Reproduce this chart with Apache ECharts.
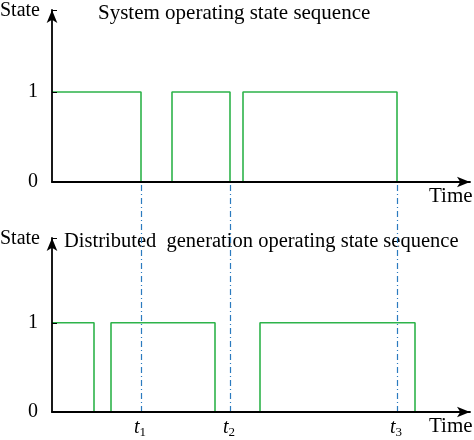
<!DOCTYPE html>
<html><head><meta charset="utf-8">
<script src="https://cdn.jsdelivr.net/npm/echarts@6/dist/echarts.min.js"></script>
<style>body{margin:0}#c{width:474px;height:440px}</style>
</head><body><div id="c"></div>
<script>
// step sequences, x in time units (0..418), y state 0/1
var sysSeq = [[0,1],[89,1],[89,0],[120,0],[120,1],[178,1],[178,0],[191,0],[191,1],[345,1],[345,0],[418,0]];
var dgSeq = [[0,1],[42,1],[42,0],[59,0],[59,1],[163,1],[163,0],[208,0],[208,1],[363,1],[363,0],[418,0]];
var tMarks = [89, 178, 345];
var tNames = ['1', '2', '3'];

var font = 'Liberation Serif';
var green = '#2db34a';
var chart = echarts.init(document.getElementById('c'));

function yAx(idx, mx) {
	return {
		gridIndex: idx, type: 'value', min: 0, max: mx, interval: 1, z: 5,
		axisLine: {show: true, lineStyle: {color: '#000', width: 1.8}, symbol: ['none', 'arrow'], symbolSize: [8, 13]},
		axisTick: {show: true, inside: true, length: 5, lineStyle: {color: '#000'}},
		splitLine: {show: false},
		axisLabel: {color: '#000', fontFamily: font, fontSize: 20, margin: 14,
			formatter: function(v) { return (v === 0 || v === 1) ? v : ''; }}
	};
}
function xAx(idx) {
	return {
		gridIndex: idx, type: 'value', min: 0, max: 418, z: 5,
		axisLine: {show: true, lineStyle: {color: '#000', width: 1.8}, symbol: ['none', 'arrow'], symbolSize: [8, 13]},
		axisTick: {show: false}, axisLabel: {show: false}, splitLine: {show: false}
	};
}

var texts = [
	{type: 'text', left: 98, top: 3, style: {text: 'System operating state sequence', font: '21px ' + font, fill: '#000'}},
	{type: 'text', left: 64, top: 231, style: {text: 'Distributed  generation operating state sequence', font: '20.5px ' + font, fill: '#000'}},
	{type: 'text', left: 0, top: 1, style: {text: 'State', font: '20px ' + font, fill: '#000'}},
	{type: 'text', left: 0, top: 229, style: {text: 'State', font: '20px ' + font, fill: '#000'}},
	{type: 'text', left: 429, top: 186, style: {text: 'Time', font: '21px ' + font, fill: '#000'}},
	{type: 'text', left: 429, top: 416, style: {text: 'Time', font: '21px ' + font, fill: '#000'}}
];
tMarks.forEach(function(t, i) {
	texts.push({type: 'text', left: 52 + t - 7, top: 418, style: {
		text: '{a|t}{b|' + tNames[i] + '}',
		rich: {a: {font: 'italic 20px ' + font, fill: '#000'}, b: {font: '13px ' + font, fill: '#000', padding: [9, 0, 0, 0]}}
	}});
});

chart.setOption({
	animation: false,
	grid: [
		{left: 52, top: 10, width: 418, height: 172},
		{left: 52, top: 238, width: 418, height: 174},
		{left: 52, top: 182, width: 418, height: 230}
	],
	xAxis: [xAx(0), xAx(1), {gridIndex: 2, type: 'value', min: 0, max: 418, show: false}],
	yAxis: [yAx(0, 1.91), yAx(1, 1.95), {gridIndex: 2, type: 'value', min: 0, max: 1, show: false}],
	graphic: texts,
	series: [
		{type: 'line', xAxisIndex: 0, yAxisIndex: 0, data: sysSeq, showSymbol: false, lineStyle: {color: green, width: 1.6}, z: 1},
		{type: 'line', xAxisIndex: 1, yAxisIndex: 1, data: dgSeq, showSymbol: false, lineStyle: {color: green, width: 1.6}, z: 1},
		{type: 'line', xAxisIndex: 2, yAxisIndex: 2, data: [], 
			markLine: {silent: true, symbol: 'none', label: {show: false},
				lineStyle: {color: '#2b7bbf', width: 1.2, type: [6, 3, 1, 3]},
				data: tMarks.map(function(t) { return {xAxis: t}; })}}
	]
});
</script></body></html>
